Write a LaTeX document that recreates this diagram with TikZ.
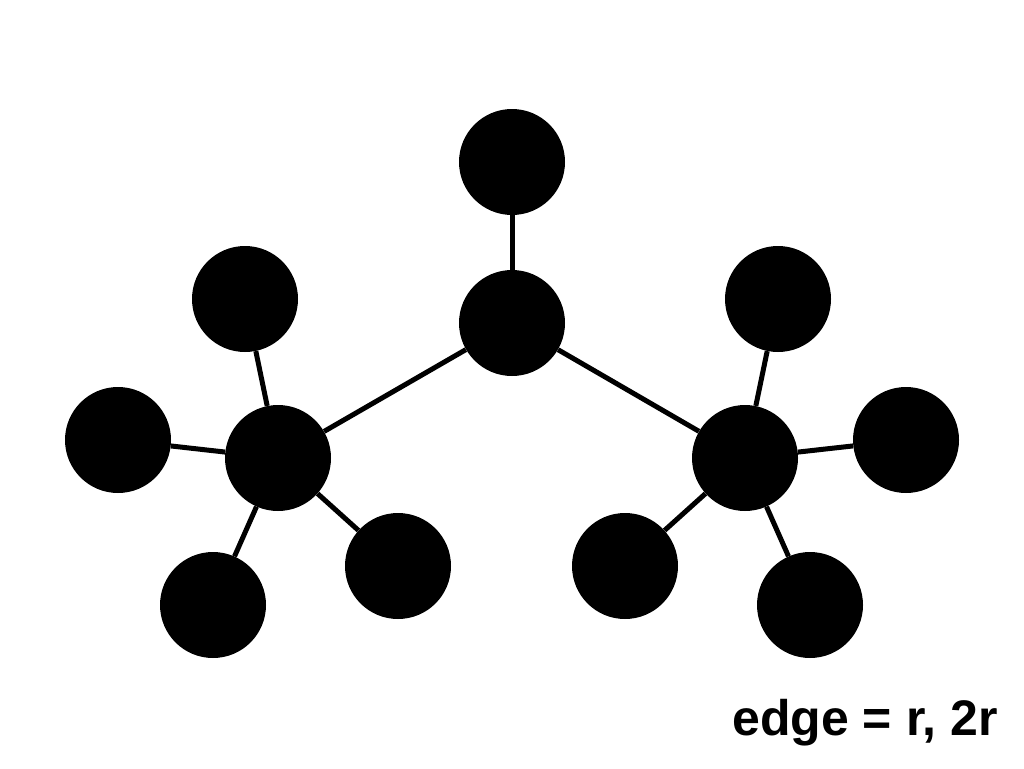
\documentclass[tikz,border=0pt]{standalone}
\usepackage{fontspec}
\setmainfont{Liberation Sans}
\begin{document}
\begin{tikzpicture}[x=1pt,y=-1pt,
  ball/.style={circle,fill=black,minimum size=106pt,inner sep=0pt},
  bond/.style={line width=5pt,black}]
\useasboundingbox (0,0) rectangle (1024,768);
\node[ball] (top) at (512,162) {};
\node[ball] (c) at (512,323) {};
\node[ball] (lh) at (278,458) {};
\node[ball] (rh) at (745,458) {};
\node[ball] (lt) at (245,299) {};
\node[ball] (ll) at (118,440) {};
\node[ball] (lb) at (213,605) {};
\node[ball] (lr) at (398,566) {};
\node[ball] (rt) at (778,299) {};
\node[ball] (rr) at (906,440) {};
\node[ball] (rb) at (810,605) {};
\node[ball] (rl) at (625,566) {};
\draw[bond] (top) -- (c);
\draw[bond] (c) -- (lh);
\draw[bond] (c) -- (rh);
\draw[bond] (lh) -- (lt);
\draw[bond] (lh) -- (ll);
\draw[bond] (lh) -- (lb);
\draw[bond] (lh) -- (lr);
\draw[bond] (rh) -- (rt);
\draw[bond] (rh) -- (rr);
\draw[bond] (rh) -- (rb);
\draw[bond] (rh) -- (rl);
\node[anchor=base east,inner sep=0pt,font=\fontsize{50}{58}\selectfont\bfseries] (lbl) at (998,735) {edge = r, 2r};
\end{tikzpicture}
\end{document}
